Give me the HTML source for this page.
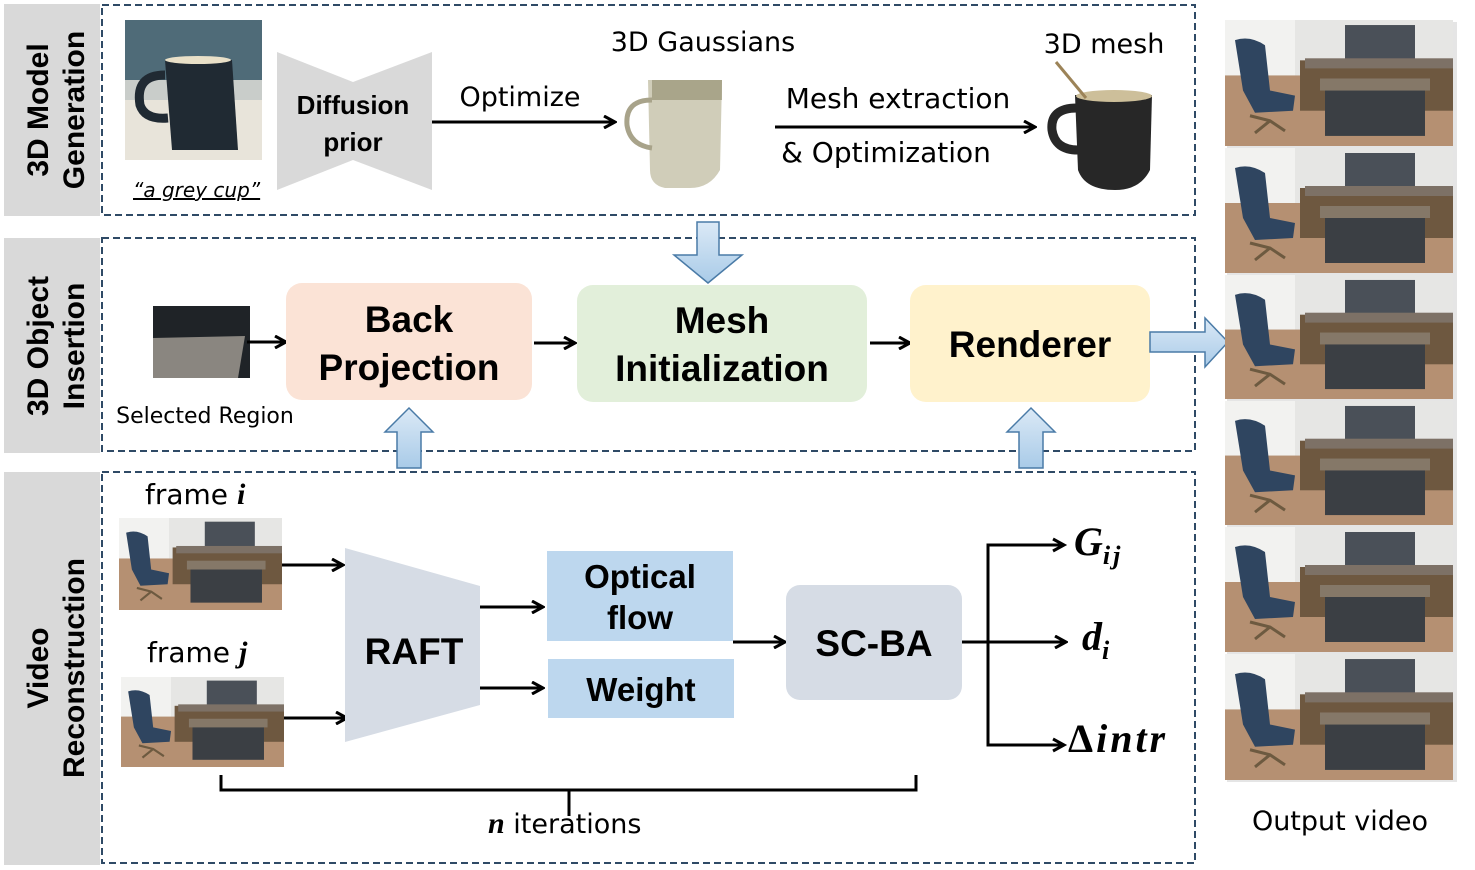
<!DOCTYPE html>
<html><head><meta charset="utf-8"><style>
html,body{margin:0;padding:0;background:#fff;}
svg{display:block;}
.hw{font-family:"Comic Sans MS","DejaVu Sans","Liberation Sans",sans-serif;}
.b{font-family:"Liberation Sans",Arial,sans-serif;font-weight:bold;}
.m{font-family:"Liberation Serif","DejaVu Serif",serif;font-weight:bold;font-style:italic;}
</style></head><body>
<svg width="1475" height="870" viewBox="0 0 1475 870" xmlns="http://www.w3.org/2000/svg">
<defs>
<marker id="ah" markerWidth="14" markerHeight="14" refX="12" refY="7" orient="auto" markerUnits="userSpaceOnUse">
<path d="M1,1 L12,7 L1,13" fill="none" stroke="#000" stroke-width="3"/>
</marker>
<linearGradient id="bl" x1="0" y1="0" x2="0" y2="1"><stop offset="0" stop-color="#dbe9f6"/><stop offset="1" stop-color="#a9cbe8"/></linearGradient>
<g id="room">
<rect x="0" y="0" width="228" height="125" fill="#e6e6e4"/>
<rect x="0" y="0" width="70" height="55" fill="#f2f2f0"/>
<rect x="0" y="55" width="228" height="70" fill="#b59072"/>
<rect x="120" y="5" width="70" height="40" fill="#4a5058"/>
<rect x="75" y="40" width="153" height="50" fill="#6e5840"/>
<rect x="80" y="38" width="148" height="10" fill="#7d7166"/>
<rect x="100" y="60" width="100" height="55" fill="#3b3f44"/>
<rect x="95" y="58" width="110" height="12" fill="#857868"/>
<path d="M10 20 Q25 15 40 25 L45 70 L70 75 L68 90 L30 92 L18 70 Z" fill="#2f4560"/>
<path d="M25 95 L45 100 L60 110 M45 100 L30 112" stroke="#6d5a40" stroke-width="3" fill="none"/>
</g>
</defs>

<rect x="4" y="4" width="96" height="212" fill="#d9d9d9"/>
<rect x="4" y="238" width="96" height="215" fill="#d9d9d9"/>
<rect x="4" y="472" width="96" height="393" fill="#d9d9d9"/>
<text class="b" font-size="30" text-anchor="middle" transform="translate(48,110) rotate(-90)">3D Model</text>
<text class="b" font-size="30" text-anchor="middle" transform="translate(84,110) rotate(-90)">Generation</text>
<text class="b" font-size="30" text-anchor="middle" transform="translate(48,346) rotate(-90)">3D Object</text>
<text class="b" font-size="30" text-anchor="middle" transform="translate(84,346) rotate(-90)">Insertion</text>
<text class="b" font-size="30" text-anchor="middle" transform="translate(48,668) rotate(-90)">Video</text>
<text class="b" font-size="30" text-anchor="middle" transform="translate(84,668) rotate(-90)">Reconstruction</text>

<g fill="none" stroke="#2f4a66" stroke-width="2" stroke-dasharray="7,4">
<rect x="102" y="5" width="1093" height="210"/>
<rect x="102" y="238" width="1093" height="213"/>
<rect x="102" y="472" width="1093" height="391"/>
</g>

<rect x="125" y="20" width="137" height="140" fill="#c9cdca"/>
<rect x="125" y="20" width="137" height="60" fill="#4f6b78"/>
<rect x="125" y="100" width="137" height="60" fill="#e8e4da"/>
<path d="M165 60 L232 60 L238 150 L172 150 Z" fill="#202a33"/>
<path d="M165 75 Q135 75 140 105 Q145 120 168 118" fill="none" stroke="#202a33" stroke-width="9"/>
<ellipse cx="198" cy="60" rx="33" ry="4" fill="#e9e0c8"/>
<text class="hw" x="133" y="197" font-size="20" font-style="italic" text-decoration="underline">“a grey cup”</text>
<path d="M277 52 L353 82 L432 52 L432 190 L353 160 L277 190 Z" fill="#d9d9d9"/>
<text class="b" x="353" y="114" font-size="26" text-anchor="middle">Diffusion</text>
<text class="b" x="353" y="151" font-size="26" text-anchor="middle">prior</text>
<line x1="432" y1="122" x2="615" y2="122" stroke="#000" stroke-width="3" marker-end="url(#ah)"/>
<text class="hw" x="520" y="106" font-size="27" text-anchor="middle">Optimize</text>
<text class="hw" x="703" y="51" font-size="27" text-anchor="middle">3D Gaussians</text>
<path d="M648 80 L722 80 L720 170 Q710 188 690 188 L665 188 Q650 185 650 170 Z" fill="#c4c0a8" opacity="0.8"/>
<rect x="652" y="80" width="70" height="20" fill="#8f8a6a" opacity="0.6"/>
<path d="M652 100 Q625 100 627 125 Q630 145 652 148" fill="none" stroke="#a8a38a" stroke-width="5"/>
<line x1="775" y1="127" x2="1035" y2="127" stroke="#000" stroke-width="3" marker-end="url(#ah)"/>
<text class="hw" x="898" y="108" font-size="28" text-anchor="middle">Mesh extraction</text>
<text class="hw" x="886" y="162" font-size="28" text-anchor="middle">&amp; Optimization</text>
<text class="hw" x="1104" y="53" font-size="27" text-anchor="middle">3D mesh</text>
<path d="M1075 95 L1152 95 L1150 170 Q1140 190 1115 190 Q1085 190 1078 170 Z" fill="#272727"/>
<ellipse cx="1114" cy="96" rx="38" ry="6" fill="#cdbf9a"/>
<path d="M1077 108 Q1050 108 1052 130 Q1055 150 1078 150" fill="none" stroke="#272727" stroke-width="9"/>
<line x1="1056" y1="62" x2="1086" y2="98" stroke="#9c8358" stroke-width="3"/>

<path d="M697 222 L719 222 L719 255 L742 255 L708 283 L674 255 L697 255 Z" fill="url(#bl)" stroke="#4a7ba7" stroke-width="1.5"/>

<rect x="153" y="306" width="97" height="72" fill="#1f2327"/>
<path d="M153 338 L245 336 L238 378 L153 378 Z" fill="#8a8680"/>
<line x1="247" y1="342" x2="286" y2="342" stroke="#000" stroke-width="3" marker-end="url(#ah)"/>
<text class="hw" x="205" y="423" font-size="22" text-anchor="middle">Selected Region</text>
<rect x="286" y="283" width="246" height="117" rx="16" fill="#fbe3d6"/>
<text class="b" x="409" y="332" font-size="37" text-anchor="middle">Back</text>
<text class="b" x="409" y="380" font-size="37" text-anchor="middle">Projection</text>
<line x1="534" y1="343" x2="575" y2="343" stroke="#000" stroke-width="3" marker-end="url(#ah)"/>
<rect x="577" y="285" width="290" height="117" rx="16" fill="#e2efda"/>
<text class="b" x="722" y="333" font-size="37" text-anchor="middle">Mesh</text>
<text class="b" x="722" y="381" font-size="37" text-anchor="middle">Initialization</text>
<line x1="870" y1="343" x2="910" y2="343" stroke="#000" stroke-width="3" marker-end="url(#ah)"/>
<rect x="910" y="285" width="240" height="117" rx="16" fill="#fff2cc"/>
<text class="b" x="1030" y="357" font-size="37" text-anchor="middle">Renderer</text>
<path d="M1150 332 L1205 332 L1205 318 L1228 342 L1205 367 L1205 352 L1150 352 Z" fill="url(#bl)" stroke="#4a7ba7" stroke-width="1.5"/>
<path d="M397 468 L421 468 L421 432 L433 432 L409 408 L385 432 L397 432 Z" fill="url(#bl)" stroke="#4a7ba7" stroke-width="1.5"/>
<path d="M1019 468 L1043 468 L1043 432 L1055 432 L1031 408 L1007 432 L1019 432 Z" fill="url(#bl)" stroke="#4a7ba7" stroke-width="1.5"/>

<text class="hw" x="145" y="504" font-size="28">frame <tspan font-family="Liberation Serif" font-weight="bold" font-style="italic" font-size="30">i</tspan></text>
<svg x="119" y="518" width="163" height="92" viewBox="0 0 228 125" preserveAspectRatio="none"><use href="#room"/></svg>
<line x1="282" y1="565" x2="343" y2="565" stroke="#000" stroke-width="3" marker-end="url(#ah)"/>
<text class="hw" x="147" y="662" font-size="28">frame <tspan font-family="Liberation Serif" font-weight="bold" font-style="italic" font-size="30">j</tspan></text>
<svg x="121" y="677" width="163" height="90" viewBox="0 0 228 125" preserveAspectRatio="none"><use href="#room"/></svg>
<line x1="284" y1="718" x2="347" y2="718" stroke="#000" stroke-width="3" marker-end="url(#ah)"/>
<path d="M345 548 L480 586 L480 705 L345 742 Z" fill="#d6dce5"/>
<text class="b" x="414" y="664" font-size="37" text-anchor="middle">RAFT</text>
<line x1="480" y1="607" x2="543" y2="607" stroke="#000" stroke-width="3" marker-end="url(#ah)"/>
<line x1="480" y1="688" x2="543" y2="688" stroke="#000" stroke-width="3" marker-end="url(#ah)"/>
<rect x="547" y="551" width="186" height="90" fill="#bdd7ee"/>
<text class="b" x="640" y="588" font-size="33" text-anchor="middle">Optical</text>
<text class="b" x="640" y="629" font-size="33" text-anchor="middle">flow</text>
<rect x="548" y="659" width="186" height="59" fill="#bdd7ee"/>
<text class="b" x="641" y="701" font-size="33" text-anchor="middle">Weight</text>
<line x1="733" y1="642" x2="785" y2="642" stroke="#000" stroke-width="3" marker-end="url(#ah)"/>
<rect x="786" y="585" width="176" height="115" rx="14" fill="#d6dce5"/>
<text class="b" x="874" y="656" font-size="37" text-anchor="middle">SC-BA</text>
<line x1="962" y1="642" x2="1066" y2="642" stroke="#000" stroke-width="3" marker-end="url(#ah)"/>
<polyline points="1064,545 988,545 988,745 1064,745" fill="none" stroke="#000" stroke-width="3"/>
<path d="M1053 539 L1064 545 L1053 551 M1053 739 L1064 745 L1053 751" fill="none" stroke="#000" stroke-width="3"/>
<text class="m" x="1074" y="555" font-size="40">G<tspan font-size="26" dy="9" letter-spacing="3">ij</tspan></text>
<text class="m" x="1082" y="650" font-size="40">d<tspan font-size="26" dy="9">i</tspan></text>
<text class="m" x="1068" y="752" font-size="40" letter-spacing="3"><tspan font-style="normal">Δ</tspan>intr</text>
<path d="M221 775 L221 790 L916 790 L916 775" fill="none" stroke="#000" stroke-width="3"/>
<line x1="569" y1="790" x2="569" y2="816" stroke="#000" stroke-width="3"/>
<text class="hw" x="488" y="833" font-size="27"><tspan font-family="Liberation Serif" font-weight="bold" font-style="italic" font-size="30">n</tspan> iterations</text>

<rect x="1227" y="22" width="230" height="760" fill="#ccc" opacity="0.5"/>
<svg x="1225" y="20" width="228" height="126" viewBox="0 0 228 125" preserveAspectRatio="none"><use href="#room"/></svg>
<svg x="1225" y="148" width="228" height="125" viewBox="0 0 228 125" preserveAspectRatio="none"><use href="#room"/></svg>
<svg x="1225" y="275" width="228" height="124" viewBox="0 0 228 125" preserveAspectRatio="none"><use href="#room"/></svg>
<svg x="1225" y="401" width="228" height="124" viewBox="0 0 228 125" preserveAspectRatio="none"><use href="#room"/></svg>
<svg x="1225" y="527" width="228" height="125" viewBox="0 0 228 125" preserveAspectRatio="none"><use href="#room"/></svg>
<svg x="1225" y="654" width="228" height="126" viewBox="0 0 228 125" preserveAspectRatio="none"><use href="#room"/></svg>
<text class="hw" x="1340" y="830" font-size="27" text-anchor="middle">Output video</text>
</svg>
</body></html>
